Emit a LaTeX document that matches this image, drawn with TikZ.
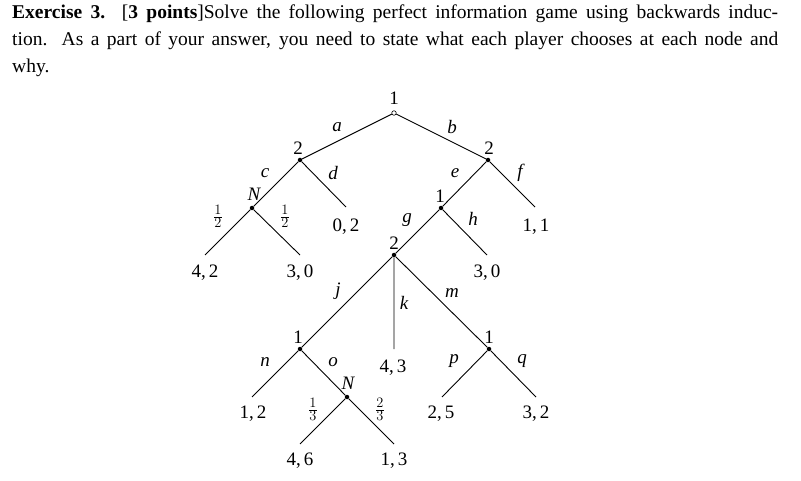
\documentclass[tikz,border=0pt]{standalone}
\usepackage{fontspec}
\setmainfont{Liberation Serif}
\begin{document}
\begin{tikzpicture}[x=1pt,y=-1pt,
  dot/.style={circle,fill=black,inner sep=0pt,minimum size=4.5pt},
  odot/.style={circle,draw=black,fill=white,inner sep=0pt,minimum size=4.5pt,line width=0.6pt},
  lab/.style={font=\fontsize{19}{22}\selectfont\itshape,inner sep=0pt},
  num/.style={font=\fontsize{19}{22}\selectfont,inner sep=0pt},
  fr/.style={font=\fontsize{19}{22}\selectfont,inner sep=0pt},
  edge/.style={line width=0.9pt}]
\useasboundingbox (0,0) rectangle (801,481);
\node[anchor=north west,text width=766pt,align=justify,inner sep=0pt,font=\fontsize{19.5}{27}\selectfont] (txt) at (12,5)
{\textbf{Exercise 3.} [\textbf{3 points}]Solve the following perfect information game using backwards induc-\linebreak tion. As a part of your answer, you need to state what each player chooses at each node and\linebreak why.};
% nodes
\node[odot] (r) at (394,113) {};
\node[dot] (l2) at (300,160) {};
\node[dot] (r2) at (488,160) {};
\node[dot] (n1) at (252,208) {};
\node[dot] (e1) at (441,208) {};
\node[dot] (g2) at (394,255) {};
\node[dot] (j1) at (300,349) {};
\node[dot] (m1) at (489,349) {};
\node[dot] (n2) at (347,397) {};
\coordinate (lf1) at (205,255);
\coordinate (lf2) at (300,255);
\coordinate (lfd) at (346,207);
\coordinate (lff) at (535,207);
\coordinate (lfh) at (487,255);
\coordinate (lfk) at (394,349);
\coordinate (lfn) at (252,397);
\coordinate (lfp) at (442,397);
\coordinate (lfq) at (536,397);
\coordinate (lf46) at (300,444);
\coordinate (lf13) at (394,444);
\draw[edge] (r)--(l2) (r)--(r2) (l2)--(n1) (l2)--(lfd) (n1)--(lf1) (n1)--(lf2)
 (r2)--(e1) (r2)--(lff) (e1)--(g2) (e1)--(lfh) (g2)--(j1) (g2)--(lfk) (g2)--(m1)
 (j1)--(lfn) (j1)--(n2) (n2)--(lf46) (n2)--(lf13) (m1)--(lfp) (m1)--(lfq);
% player labels
\node[num] (p1) at (394,98) {1};
\node[num] (p2) at (298,148) {2};
\node[num] (p3) at (489,148) {2};
\node[lab] (p4) at (254,194) {N};
\node[num] (p5) at (440,196) {1};
\node[num] (p6) at (394,243) {2};
\node[num] (p7) at (298,337) {1};
\node[num] (p8) at (489,337) {1};
\node[lab] (p9) at (348,383) {N};
% action labels
\node[lab] (la) at (337,127) {a};
\node[lab] (lb) at (452,127) {b};
\node[lab] (lc) at (265,173) {c};
\node[lab] (ld) at (333,173) {d};
\node[lab] (le) at (455,173) {e};
\node[lab] (lf) at (520,173) {f};
\node[lab] (lg) at (407,220) {g};
\node[lab] (lh) at (473,219) {h};
\node[lab] (lj) at (338,291) {j};
\node[lab] (lk) at (404,303) {k};
\node[lab] (lm) at (452,293) {m};
\node[lab] (ln) at (265,362) {n};
\node[lab] (lo) at (333,362) {o};
\node[lab] (lp) at (454,361) {p};
\node[lab] (lq) at (522,361) {q};
% probabilities
\node[fr] (f1) at (218,216) {$\frac{1}{2}$};
\node[fr] (f2) at (285,216) {$\frac{1}{2}$};
\node[fr] (f3) at (313,409) {$\frac{1}{3}$};
\node[fr] (f4) at (380,409) {$\frac{2}{3}$};
% payoffs
\node[num] (v1) at (205,273) {4,\,2};
\node[num] (v2) at (300,273) {3,\,0};
\node[num] (v3) at (346,227) {0,\,2};
\node[num] (v4) at (536,227) {1,\,1};
\node[num] (v5) at (487,273) {3,\,0};
\node[num] (v6) at (393,368) {4,\,3};
\node[num] (v7) at (253,414) {1,\,2};
\node[num] (v8) at (441,414) {2,\,5};
\node[num] (v9) at (536,414) {3,\,2};
\node[num] (v10) at (300,461) {4,\,6};
\node[num] (v11) at (394,461) {1,\,3};
\end{tikzpicture}
\end{document}
